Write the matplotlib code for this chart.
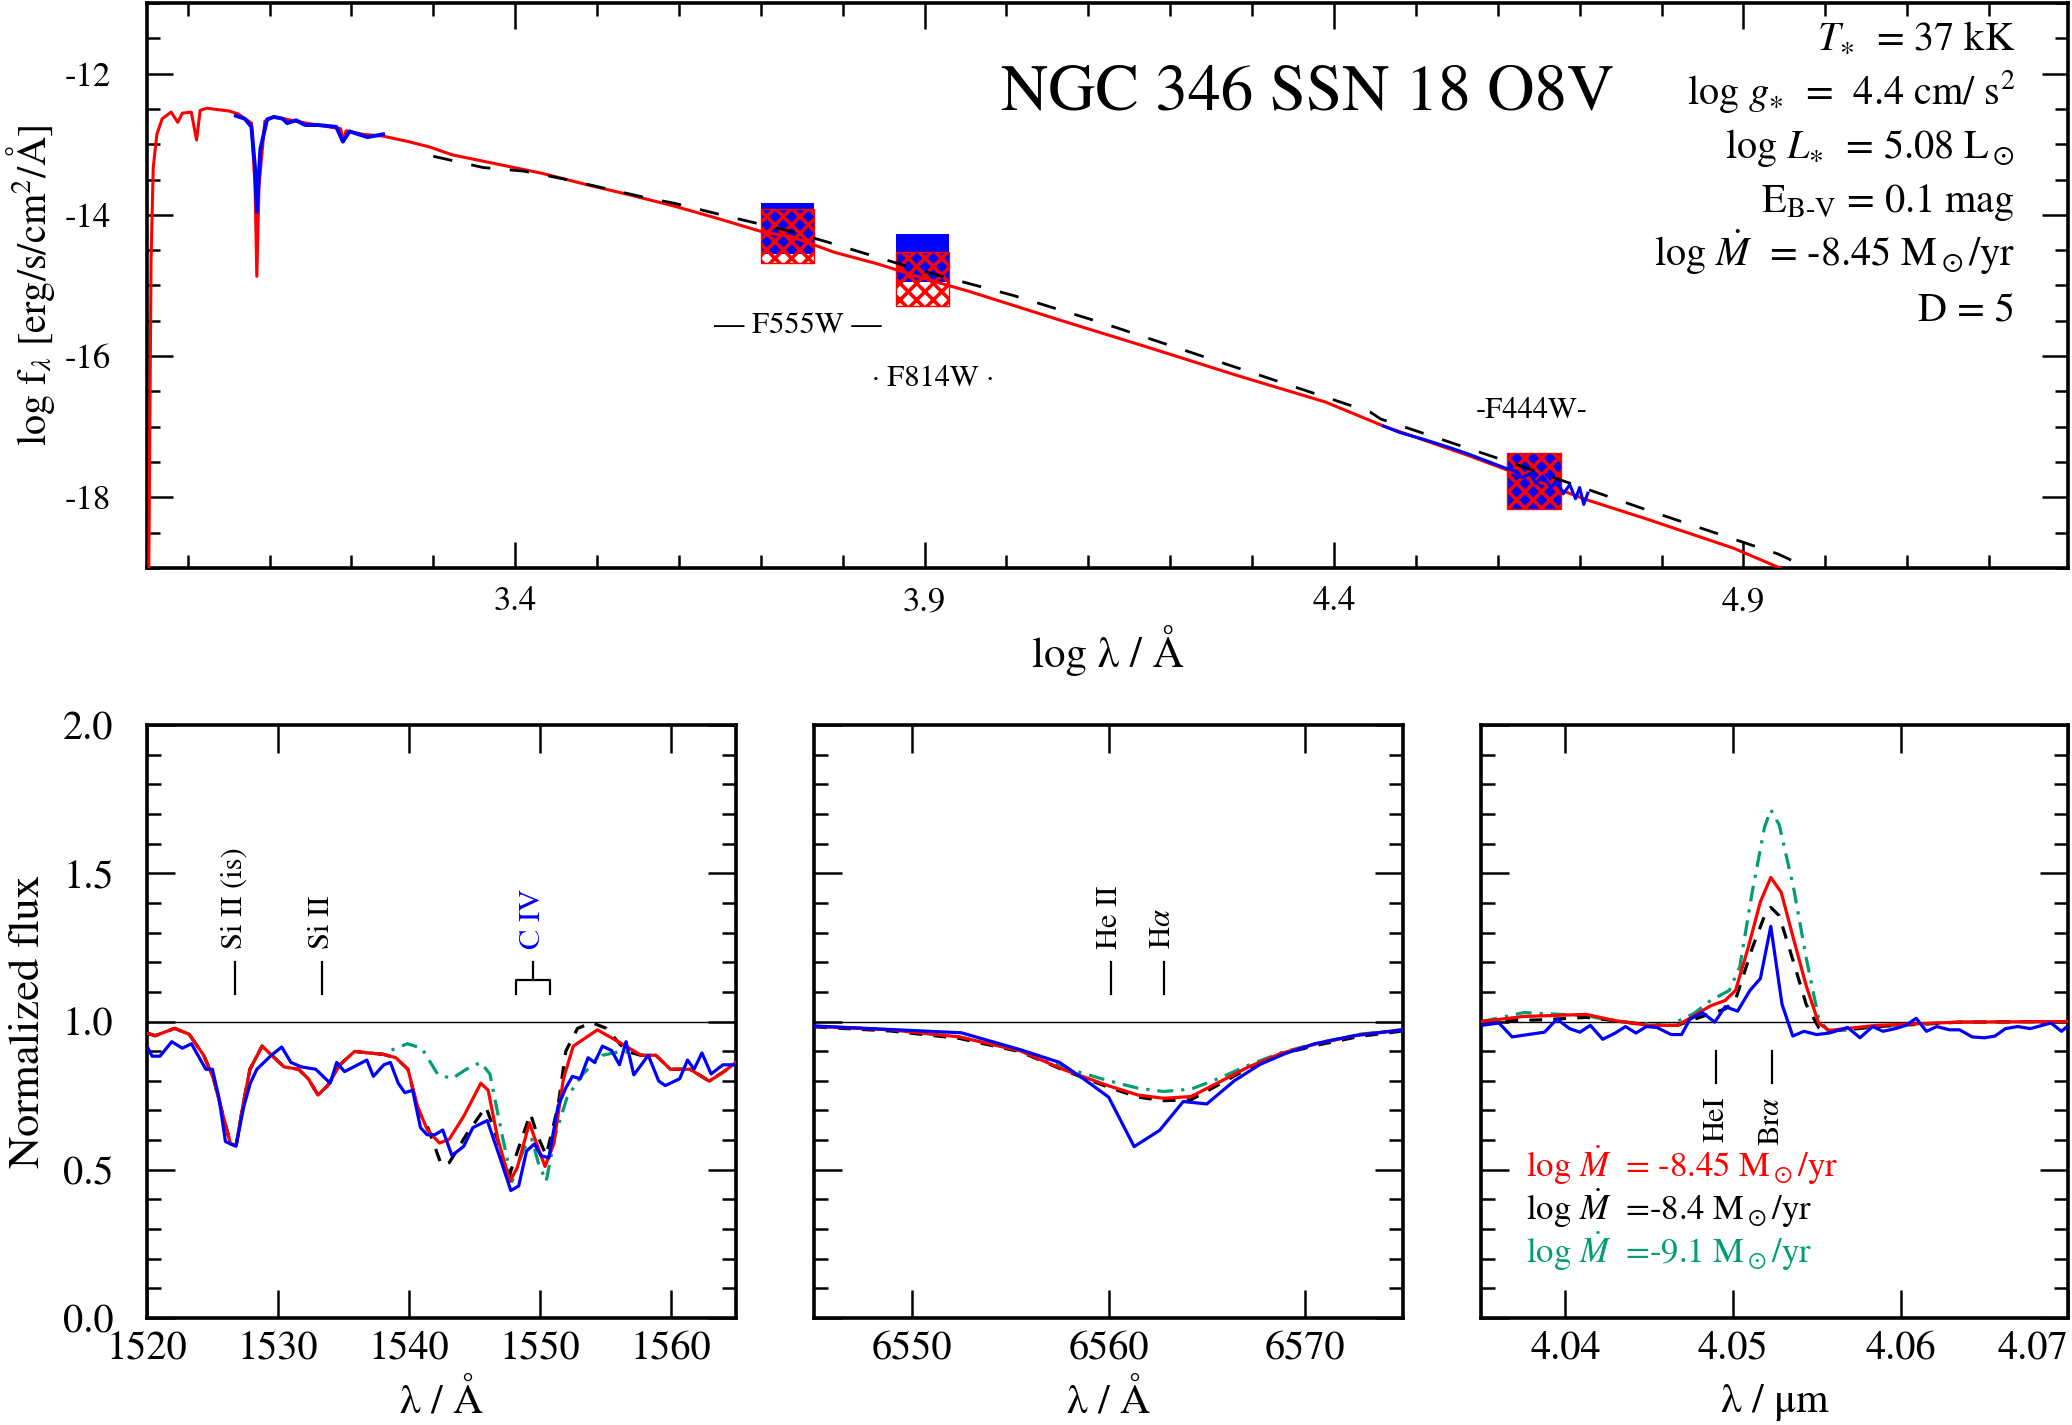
"""SED fit and line-profile panels for NGC 346 SSN 18 (O8V)."""
import matplotlib

matplotlib.use("Agg")
import matplotlib.pyplot as plt
from matplotlib.ticker import FixedLocator, MultipleLocator

plt.rcParams["font.family"] = ["STIXGeneral", "DejaVu Serif"]
plt.rcParams["mathtext.fontset"] = "stix"
plt.rcParams["axes.unicode_minus"] = False
plt.rcParams["hatch.linewidth"] = 2.6

RED = "#ff0000"
BLUE = "#0000ff"
GREEN = "#009e73"
INK = "black"

# ---- top: spectral energy distribution (log lambda / A, log f_lambda) ----
model_logw = [2.9526, 2.9553, 2.958, 2.9624, 2.9689, 2.9798, 2.988, 2.9935, 3.0044,
              3.0109, 3.0153, 3.0234, 3.0507, 3.0616, 3.0779, 3.0823, 3.0845, 3.0872,
              3.0943, 3.1052, 3.1324, 3.1597, 3.1869, 3.1896, 3.1935, 3.2142, 3.2387,
              3.2687, 3.2959, 3.3232, 3.3777, 3.4322, 3.4866, 3.5411, 3.5956, 3.6501,
              3.7046, 3.7353, 3.7899, 3.8444, 3.8989, 3.9534, 4.0625, 4.1715, 4.2806,
              4.3896, 4.4605, 4.5647, 4.7102, 4.7803, 4.8881, 4.9447, 4.9636]
model_flux = [-19.0, -14.64, -13.33, -12.86, -12.64, -12.545, -12.69, -12.56, -12.545,
              -12.94, -12.52, -12.49, -12.53, -12.57, -12.70, -13.59, -14.87, -13.59,
              -12.675, -12.61, -12.675, -12.73, -12.78, -12.96, -12.81, -12.86, -12.885,
              -12.96, -13.04, -13.15, -13.28, -13.41, -13.57, -13.72, -13.88, -14.06,
              -14.25, -14.30, -14.53, -14.70, -14.90, -15.08, -15.48, -15.87, -16.27,
              -16.65, -16.99, -17.41, -18.04, -18.30, -18.72, -19.0, -19.14]

alt_logw = [3.30, 3.361, 3.41, 3.459, 3.508, 3.557, 3.596, 3.645, 3.688, 3.732, 3.78,
            3.899, 4.008, 4.117, 4.226, 4.335, 4.444, 4.457, 4.619, 4.78, 4.942, 4.99]
alt_flux = [-13.17, -13.33, -13.38, -13.49, -13.62, -13.75, -13.84, -13.98, -14.10,
            -14.22, -14.38, -14.80, -15.14, -15.53, -15.95, -16.37, -16.79, -16.89,
            -17.52, -18.17, -18.80, -19.06]

uv_logw = [3.0589, 3.0698, 3.0779, 3.0823, 3.0845, 3.0888, 3.097, 3.1052, 3.1161,
           3.1215, 3.1324, 3.1433, 3.1597, 3.1815, 3.1896, 3.1978, 3.2087, 3.2196, 3.2387]
uv_flux = [-12.597, -12.639, -12.754, -13.33, -13.958, -13.068, -12.649, -12.613,
           -12.639, -12.702, -12.66, -12.728, -12.728, -12.754, -12.963, -12.817,
           -12.859, -12.9, -12.859]

ir_logw = [4.4605, 4.48, 4.51, 4.54, 4.565, 4.59, 4.608, 4.62, 4.63, 4.64, 4.646,
           4.655, 4.665, 4.672, 4.68, 4.688, 4.695, 4.70, 4.705, 4.71]
ir_flux = [-16.99, -17.08, -17.18, -17.29, -17.39, -17.50, -17.58, -17.62, -17.72,
           -17.66, -17.80, -17.70, -17.86, -17.76, -17.95, -17.82, -18.02, -17.86,
           -18.10, -17.94]

phot_names = ["F555W", "F814W", "F444W"]
phot_logw = [3.7326, 3.8978, 4.6442]
phot_obs_hi = [-13.83, -14.27, -17.37]
phot_obs_lo = [-14.56, -14.95, -18.16]
phot_mod_hi = [-13.91, -14.52, -17.37]
phot_mod_lo = [-14.68, -15.29, -18.16]
phot_label_text = ["\u2014 F555W \u2014", "\u00b7 F814W \u00b7", "-F444W-"]
phot_label_logw = [3.745, 3.910, 4.642]
phot_label_flux = [-15.67, -16.42, -16.88]

star_params = [r"$T_{\ast}$  = 37 kK",
               r"log $g_{\ast}$  =  4.4 cm/ s$^2$",
               r"log $L_{\ast}$  = 5.08 L$_\odot$",
               "E$_{\\mathrm{B\u2010V}}$ = 0.1 mag",
               r"log $\dot{M}$  = -8.45 M$_\odot$/yr",
               "D = 5"]

# ---- bottom left: C IV 1550 region ----
uv_w_red = [1520.0, 1520.63, 1522.12, 1523.23, 1524.34, 1525.09, 1525.83, 1526.39,
            1526.83, 1527.32, 1527.87, 1528.80, 1529.54, 1530.47, 1531.59, 1532.33,
            1533.07, 1533.81, 1534.74, 1535.86, 1538.08, 1539.01, 1539.94, 1540.68,
            1541.43, 1542.35, 1543.10, 1544.21, 1545.51, 1546.07, 1546.81, 1547.74,
            1548.30, 1549.22, 1549.78, 1550.41, 1551.08, 1551.82, 1552.57, 1554.42,
            1556.28, 1557.76, 1558.88, 1559.99, 1561.48, 1562.96, 1564.08, 1565.0]
uv_f_red = [0.961, 0.952, 0.977, 0.957, 0.886, 0.807, 0.681, 0.587, 0.584, 0.713,
            0.839, 0.917, 0.886, 0.847, 0.839, 0.807, 0.752, 0.784, 0.854, 0.899,
            0.889, 0.878, 0.839, 0.713, 0.634, 0.590, 0.603, 0.681, 0.792, 0.768,
            0.603, 0.461, 0.508, 0.658, 0.587, 0.511, 0.587, 0.807, 0.917, 0.972,
            0.925, 0.886, 0.886, 0.839, 0.839, 0.799, 0.831, 0.862]

uv_w_blk = [1520.0, 1520.63, 1522.12, 1523.23, 1524.34, 1525.09, 1525.83, 1526.39,
            1526.83, 1527.32, 1527.87, 1528.80, 1529.54, 1530.47, 1531.59, 1532.33,
            1533.07, 1533.81, 1534.74, 1535.86, 1538.08, 1539.01, 1539.94, 1540.7,
            1541.4, 1542.5, 1543.1, 1544.4, 1545.9, 1546.8, 1547.6, 1548.8, 1549.3,
            1549.8, 1550.5, 1551.4, 1552.0, 1552.9, 1554.0, 1555.1, 1556.6, 1557.76,
            1558.88, 1559.99, 1561.48, 1562.96, 1564.08, 1565.0]
uv_f_blk = [0.961, 0.952, 0.977, 0.957, 0.886, 0.807, 0.681, 0.587, 0.584, 0.713,
            0.839, 0.917, 0.886, 0.847, 0.839, 0.807, 0.752, 0.784, 0.854, 0.899,
            0.889, 0.878, 0.839, 0.700, 0.650, 0.516, 0.524, 0.618, 0.713, 0.600,
            0.470, 0.626, 0.689, 0.620, 0.548, 0.713, 0.900, 0.977, 0.996, 0.977,
            0.900, 0.886, 0.886, 0.839, 0.839, 0.799, 0.831, 0.862]

uv_w_grn = [1520.0, 1520.63, 1522.12, 1523.23, 1524.34, 1525.09, 1525.83, 1526.39,
            1526.83, 1527.32, 1527.87, 1528.80, 1529.54, 1530.47, 1531.59, 1532.33,
            1533.07, 1533.81, 1534.74, 1535.86, 1538.08, 1538.6, 1539.9, 1541.0,
            1542.2, 1543.3, 1544.4, 1545.5, 1546.2, 1547.2, 1547.9, 1548.8, 1549.4,
            1549.9, 1550.5, 1551.2, 1552.1, 1553.3, 1554.8, 1556.3, 1557.76, 1558.88,
            1559.99, 1561.48, 1562.96, 1564.08, 1565.0]
uv_f_grn = [0.961, 0.952, 0.977, 0.957, 0.886, 0.807, 0.681, 0.587, 0.584, 0.713,
            0.839, 0.917, 0.886, 0.847, 0.839, 0.807, 0.752, 0.784, 0.854, 0.899,
            0.889, 0.902, 0.925, 0.910, 0.823, 0.807, 0.839, 0.862, 0.823, 0.603,
            0.461, 0.571, 0.603, 0.524, 0.461, 0.618, 0.744, 0.823, 0.886, 0.900,
            0.886, 0.886, 0.839, 0.839, 0.799, 0.831, 0.862]

uv_w_obs = [1520.0, 1520.4, 1521.0, 1521.9, 1522.7, 1523.4, 1524.5, 1525.0, 1525.5,
            1526.0, 1526.8, 1527.4, 1527.9, 1528.4, 1529.5, 1530.3, 1531.0, 1531.8,
            1532.9, 1534.0, 1534.5, 1535.1, 1535.8, 1536.8, 1537.3, 1538.1, 1538.6,
            1539.2, 1539.7, 1540.3, 1540.9, 1541.4, 1542.0, 1542.6, 1543.3, 1544.2,
            1544.9, 1546.0, 1546.8, 1547.8, 1548.4, 1549.0, 1549.6, 1550.1, 1550.7,
            1551.4, 1552.0, 1552.5, 1553.1, 1553.7, 1554.2, 1554.8, 1555.5, 1556.1,
            1556.6, 1557.2, 1558.3, 1559.1, 1559.6, 1560.7, 1561.3, 1561.8, 1562.4,
            1563.1, 1564.0, 1565.0]
uv_f_obs = [0.917, 0.883, 0.883, 0.932, 0.910, 0.925, 0.839, 0.839, 0.744, 0.595,
            0.579, 0.713, 0.792, 0.839, 0.886, 0.914, 0.862, 0.847, 0.839, 0.792,
            0.862, 0.831, 0.847, 0.870, 0.815, 0.854, 0.862, 0.792, 0.760, 0.768,
            0.642, 0.618, 0.618, 0.634, 0.548, 0.579, 0.642, 0.666, 0.563, 0.430,
            0.445, 0.563, 0.587, 0.548, 0.540, 0.713, 0.776, 0.815, 0.807, 0.878,
            0.862, 0.917, 0.902, 0.854, 0.932, 0.820, 0.886, 0.799, 0.784, 0.807,
            0.870, 0.839, 0.894, 0.823, 0.854, 0.854]

uv_ids = [1526.7, 1533.4]
uv_id_text = ["Si II (is)", "Si II"]
civ_doublet = [1548.2, 1550.8]

# ---- bottom middle: H alpha ----
ha_w = [6545.0, 6548.9, 6552.4, 6555.5, 6557.7, 6560.0, 6561.5, 6562.8, 6564.2,
        6565.5, 6567.1, 6568.8, 6570.6, 6572.8, 6575.0]
ha_f_red = [0.984, 0.972, 0.948, 0.901, 0.838, 0.783, 0.752, 0.741, 0.747, 0.791,
            0.846, 0.893, 0.925, 0.956, 0.972]
ha_f_blk = [0.982, 0.968, 0.943, 0.898, 0.836, 0.778, 0.745, 0.733, 0.736, 0.783,
            0.842, 0.890, 0.920, 0.950, 0.968]
ha_f_grn = [0.984, 0.972, 0.948, 0.902, 0.845, 0.800, 0.775, 0.764, 0.772, 0.805,
            0.852, 0.895, 0.927, 0.957, 0.973]
ha_w_obs = [6545.0, 6552.5, 6555.5, 6557.5, 6558.8, 6560.0, 6561.3, 6562.6, 6563.8,
            6565.0, 6566.4, 6567.7, 6569.0, 6570.5, 6572.5, 6575.0]
ha_f_obs = [0.985, 0.962, 0.905, 0.862, 0.803, 0.745, 0.578, 0.633, 0.730, 0.722,
            0.800, 0.855, 0.892, 0.925, 0.952, 0.972]
ha_ids = [6560.1, 6562.8]
ha_id_text = ["He II", r"H$\alpha$"]

# ---- bottom right: Br alpha (micron) ----
br_w = [4.03500, 4.03752, 4.04124, 4.04297, 4.04495, 4.04668, 4.04767, 4.04866,
        4.04953, 4.05015, 4.05089, 4.05163, 4.05225, 4.05287, 4.05361, 4.05436,
        4.05510, 4.05572, 4.05856, 4.06351, 4.07000]
br_f_red = [1.000, 1.017, 1.024, 1.003, 0.987, 0.987, 1.019, 1.053, 1.071, 1.105,
            1.247, 1.404, 1.486, 1.436, 1.278, 1.121, 0.995, 0.970, 0.987, 0.998, 1.000]
br_w_blk = [4.03500, 4.03876, 4.04124, 4.04297, 4.04495, 4.04668, 4.04866, 4.04953,
            4.05015, 4.05114, 4.05188, 4.05225, 4.05275, 4.05361, 4.05436, 4.05510,
            4.05572, 4.05856, 4.06351, 4.07000]
br_f_blk = [1.000, 1.006, 1.014, 1.003, 0.987, 0.987, 1.027, 1.042, 1.074, 1.247,
            1.357, 1.385, 1.357, 1.200, 1.058, 0.980, 0.967, 0.983, 0.998, 1.000]
br_w_grn = [4.03500, 4.03752, 4.04124, 4.04297, 4.04619, 4.04767, 4.04866, 4.04978,
            4.05040, 4.05114, 4.05188, 4.05225, 4.05275, 4.05361, 4.05436, 4.05510,
            4.05572, 4.05856, 4.06351, 4.07000]
br_f_grn = [1.000, 1.030, 1.020, 1.000, 0.987, 1.027, 1.071, 1.105, 1.184, 1.436,
            1.656, 1.714, 1.664, 1.451, 1.215, 1.011, 0.964, 0.983, 0.998, 1.000]
br_w_obs = [4.03500, 4.03604, 4.03683, 4.03777, 4.03876, 4.03950, 4.04025, 4.04087,
            4.04149, 4.04223, 4.04297, 4.04359, 4.04421, 4.04483, 4.04545, 4.04631,
            4.04693, 4.04743, 4.04817, 4.04891, 4.04953, 4.05027, 4.05101, 4.05163,
            4.05225, 4.05292, 4.05356, 4.05423, 4.05498, 4.05572, 4.05683, 4.05757,
            4.05832, 4.05894, 4.05968, 4.06030, 4.06092, 4.06153, 4.06215, 4.06290,
            4.06351, 4.06426, 4.06500, 4.06562, 4.06624, 4.06698, 4.06772, 4.06896,
            4.06958, 4.07000]
br_f_obs = [0.987, 0.995, 0.948, 0.956, 0.964, 1.008, 0.976, 0.964, 0.987, 0.940,
            0.961, 0.983, 0.961, 0.983, 0.980, 0.956, 0.956, 1.008, 1.030, 0.998,
            1.050, 1.035, 1.105, 1.145, 1.321, 1.058, 0.951, 0.967, 0.956, 0.961,
            0.980, 0.945, 0.983, 0.967, 0.976, 0.987, 1.011, 0.967, 0.983, 0.972,
            0.972, 0.948, 0.945, 0.951, 0.976, 0.983, 0.976, 0.995, 0.967, 0.987]
br_ids = [4.0490, 4.0523]
br_id_text = ["HeI", r"Br$\alpha$"]

mdot_labels = [r"log $\dot{M}$  = -8.45 M$_\odot$/yr",
               r"log $\dot{M}$  =-8.4 M$_\odot$/yr",
               r"log $\dot{M}$  =-9.1 M$_\odot$/yr"]
mdot_colors = [RED, INK, GREEN]


def frame(ax, major=19, minor=9.5):
    ax.tick_params(which="both", direction="in", top=True, right=True, width=1.8)
    ax.tick_params(which="major", length=major)
    ax.tick_params(which="minor", length=minor)
    for s in ax.spines.values():
        s.set_linewidth(2.6)


def models(ax, w_red, f_red, w_blk, f_blk, w_grn, f_grn, w_obs, f_obs):
    ax.axhline(1.0, color=INK, lw=1.0, zorder=1)
    ax.plot(w_blk, f_blk, color=INK, lw=2.3, ls=(0, (4, 3.5)), zorder=3)
    ax.plot(w_grn, f_grn, color=GREEN, lw=2.3, ls=(0, (5, 2.5, 1, 2.5)), zorder=2)
    ax.plot(w_red, f_red, color=RED, lw=2.3, zorder=4)
    ax.plot(w_obs, f_obs, color=BLUE, lw=2.3, zorder=5)
    ax.set_ylim(0, 2)
    ax.yaxis.set_major_locator(MultipleLocator(0.5))
    ax.yaxis.set_minor_locator(MultipleLocator(0.1))
    frame(ax, major=20, minor=10)
    ax.tick_params(which="major", labelsize=29, pad=9)


def line_ids(ax, xs, texts, y0=1.094, y1=1.2, ty=1.245):
    for x, t in zip(xs, texts):
        ax.plot([x, x], [y0, y1], color=INK, lw=1.6)
        ax.text(x, ty, t, rotation=90, ha="center", va="bottom", fontsize=22)


fig = plt.figure(figsize=(20.72, 14.25), dpi=100)

# --------------------------- SED ---------------------------
ax = fig.add_axes([0.0708, 0.6014, 0.9271, 0.3965])
ax.bar(phot_logw, [h - l for h, l in zip(phot_obs_hi, phot_obs_lo)], bottom=phot_obs_lo,
       width=0.065, color=BLUE, zorder=2)
ax.bar(phot_logw, [h - l for h, l in zip(phot_mod_hi, phot_mod_lo)], bottom=phot_mod_lo,
       width=0.065, facecolor="none", edgecolor=RED, hatch="xx", lw=1.0, zorder=2.5)
ax.plot(model_logw, model_flux, color=RED, lw=2.2, zorder=3)
ax.plot(uv_logw, uv_flux, color=BLUE, lw=2.8, zorder=4)
ax.plot(ir_logw, ir_flux, color=BLUE, lw=2.2, zorder=4)
ax.plot(alt_logw, alt_flux, color=INK, lw=2.0, ls=(0, (7, 7)), zorder=5)
for x, y, t in zip(phot_label_logw, phot_label_flux, phot_label_text):
    ax.text(x, y, t, ha="center", va="baseline", fontsize=22)
ax.set_xlim(2.95, 5.296)
ax.set_ylim(-19, -11)
ax.xaxis.set_major_locator(FixedLocator([3.4, 3.9, 4.4, 4.9]))
ax.xaxis.set_minor_locator(MultipleLocator(0.1))
ax.yaxis.set_major_locator(MultipleLocator(2))
ax.yaxis.set_minor_locator(MultipleLocator(0.5))
frame(ax)
ax.tick_params(axis="x", which="major", labelsize=25, pad=13)
ax.tick_params(axis="y", which="major", labelsize=25, pad=26)
ax.text(0.6045, 0.812, "NGC 346 SSN 18 O8V", transform=ax.transAxes,
        ha="center", va="baseline", fontsize=47)
for i, s in enumerate(star_params):
    ax.text(0.9726, 0.917 - 0.0957 * i, s, transform=ax.transAxes,
            ha="right", va="baseline", fontsize=29)
fig.text(0.5347, 0.5432, "log \u03bb / \u00c5", ha="center", va="center", fontsize=31)
fig.text(0.0145, 0.7996, r"log f$_\lambda$ [erg/s/cm$^2$/$\mathrm{\AA}$]", rotation=90,
         ha="center", va="center", fontsize=29)

# --------------------------- C IV ---------------------------
ax1 = fig.add_axes([0.0709, 0.0751, 0.2843, 0.4161])
models(ax1, uv_w_red, uv_f_red, uv_w_blk, uv_f_blk, uv_w_grn, uv_f_grn, uv_w_obs, uv_f_obs)
ax1.set_xlim(1520, 1565)
ax1.xaxis.set_major_locator(MultipleLocator(10))
ax1.tick_params(axis="y", which="major", pad=24)
line_ids(ax1, uv_ids, uv_id_text)
ax1.plot([civ_doublet[0], civ_doublet[0], civ_doublet[1], civ_doublet[1]],
         [1.094, 1.14, 1.14, 1.094], color=INK, lw=1.6)
civ_mid = sum(civ_doublet) / 2
ax1.plot([civ_mid, civ_mid], [1.14, 1.2], color=INK, lw=1.6)
ax1.text(civ_mid, 1.245, "C IV", rotation=90, ha="center", va="bottom",
         fontsize=22, color=BLUE)
fig.text(0.0138, 0.2832, "Normalized flux", rotation=90, ha="center", va="center",
         fontsize=32)
fig.text(0.2131, 0.016, "\u03bb / \u00c5", ha="center", va="center", fontsize=30)

# --------------------------- H alpha ---------------------------
ax2 = fig.add_axes([0.3929, 0.0751, 0.2843, 0.4161])
models(ax2, ha_w, ha_f_red, ha_w, ha_f_blk, ha_w, ha_f_grn, ha_w_obs, ha_f_obs)
ax2.set_xlim(6545, 6575)
ax2.xaxis.set_major_locator(MultipleLocator(10))
ax2.tick_params(axis="y", labelleft=False)
line_ids(ax2, ha_ids, ha_id_text)
fig.text(0.5350, 0.016, "\u03bb / \u00c5", ha="center", va="center", fontsize=30)

# --------------------------- Br alpha ---------------------------
ax3 = fig.add_axes([0.7150, 0.0751, 0.2833, 0.4161])
models(ax3, br_w, br_f_red, br_w_blk, br_f_blk, br_w_grn, br_f_grn, br_w_obs, br_f_obs)
ax3.set_xlim(4.035, 4.070)
ax3.set_xticks([4.04, 4.05, 4.06, 4.07], ["4.04", "4.05", "4.06", "4.07"])
ax3.get_xticklabels()[-1].set_horizontalalignment("right")
ax3.tick_params(axis="y", labelleft=False)
for x, t in zip(br_ids, br_id_text):
    ax3.plot([x, x], [0.793, 0.900], color=INK, lw=1.6)
    ax3.text(x, 0.746, t, rotation=90, ha="center", va="top", fontsize=22)
for i, (s, c) in enumerate(zip(mdot_labels, mdot_colors)):
    ax3.text(4.03765, 0.476 - 0.1455 * i, s, ha="left", va="baseline",
             fontsize=25, color=c)
fig.text(0.8566, 0.016, "\u03bb / \u03bcm", ha="center", va="center", fontsize=30)

fig.savefig("out.png", dpi=100)
